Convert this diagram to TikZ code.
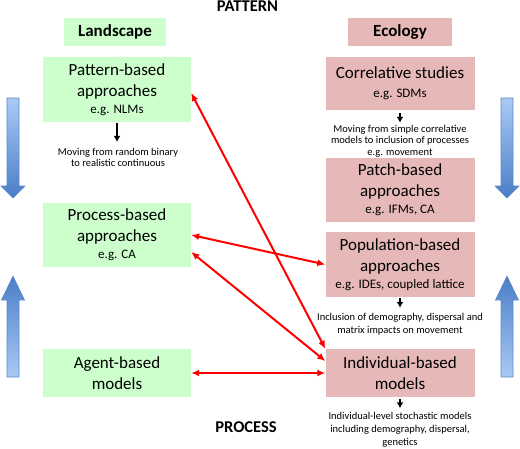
\documentclass[tikz,border=0pt]{standalone}
\usepackage{fontspec}
\setmainfont{Carlito}
\usetikzlibrary{arrows.meta}
\tikzset{>={Latex[width=7pt,length=6pt]}}

\definecolor{landgreen}{HTML}{CCFFCC}
\definecolor{ecopink}{HTML}{E6B9B8}
\definecolor{blueDark}{HTML}{4A7EC8}
\definecolor{blueLight}{HTML}{AACAF5}
\definecolor{blueEdge}{HTML}{5A8AC6}

\newcommand\boxfont{\fontsize{17}{21}\selectfont}
\newcommand\egfont{\fontsize{13}{15}\selectfont}
\newcommand\notefont{\fontsize{10.5}{11.5}\selectfont}

\begin{document}
\begin{tikzpicture}[x=1pt,y=-1pt,
    landbox/.style={fill=landgreen, align=center, inner sep=0pt, minimum width=148pt, font=\boxfont},
    ecobox/.style={fill=ecopink, align=center, inner sep=0pt, minimum width=149pt, font=\boxfont},
    header/.style={inner sep=0pt, minimum height=28pt, font=\fontsize{17}{20}\selectfont\bfseries},
    axis/.style={inner sep=0pt, font=\fontsize{16.5}{19}\selectfont\bfseries},
    note/.style={align=center, inner sep=0pt, font=\notefont},
    widenote/.style={note, font=\fontsize{10.5}{13}\selectfont},
    link/.style={{Latex[length=8pt,width=7pt]}-{Latex[length=8pt,width=7pt]}, red, line width=2pt},
    smallarrow/.style={->, line width=1.5pt}]

  \useasboundingbox (0,0) rectangle (520,448);

  \newcommand\colL{117};
  \newcommand\colR{400};

  %% titles
  \node[axis] (pattern) at (247.5,6.5) {PATTERN};
  \node[axis] (process) at (246,427) {PROCESS};

  \node[header, fill=landgreen, minimum width=102pt] (land) at (115,32) {Landscape};
  \node[header, fill=ecopink, minimum width=104pt] (eco) at (\colR,32) {Ecology};

  %% landscape column
  \node[landbox, minimum height=65pt] (pat) at (\colL,89.5) {Pattern-based\\approaches\\[-4pt]{\egfont e.g. NLMs}};
  \node[note] (patnote) at (118,157.5) {Moving from random binary\\to realistic continuous};
  \node[landbox, minimum height=64pt] (proc) at (\colL,235) {Process-based\\approaches\\[-4pt]{\egfont e.g. CA}};
  \node[landbox, minimum height=48pt] (agent) at (\colL,373) {Agent-based\\models};

  %% ecology column
  \node[ecobox, minimum height=53pt] (corr) at (\colR,83.5) {Correlative studies\\[-2pt]{\egfont e.g. SDMs}};
  \node[note] (corrnote) at (\colR,141) {Moving from simple correlative\\models to inclusion of processes\\e.g. movement};
  \node[ecobox, minimum height=64pt] (patch) at (\colR,190) {Patch-based\\approaches\\[-4pt]{\egfont e.g. IFMs, CA}};
  \node[ecobox, minimum height=65pt] (popn) at (\colR,264.5) {Population-based\\approaches\\[-4pt]{\egfont e.g. IDEs, coupled lattice}};
  \node[widenote] (popnnote) at (\colR,324) {Inclusion of demography, dispersal and\\matrix impacts on movement};
  \node[widenote] (indivnote) at (\colR,430) {Individual-level stochastic models\\including demography, dispersal,\\genetics};
  \node[ecobox, minimum height=48pt] (indiv) at (\colR,373) {Individual-based\\models};

  %% small arrows
  \draw[smallarrow, shorten <=1pt, shorten >=6pt] (pat.south) -- (pat.south |- patnote.north);
  \draw[smallarrow, shorten <=3pt, shorten >=2pt] (corr.south) -- (corrnote.north);
  \draw[smallarrow, shorten <=1pt, shorten >=5pt] (popn.south) -- (popn.south |- popnnote.north);
  \draw[smallarrow, shorten <=2pt, shorten >=4pt] (indiv.south) -- (indiv.south |- indivnote.north);

  %% links between the columns
  \draw[link] ([yshift=-3.5pt]pat.east) -- (indiv.north west);
  \draw[link] (proc.east) -- (popn.west);
  \draw[link] ([yshift=-17pt]proc.east) -- ([yshift=12pt]indiv.west);
  \draw[link] (agent.east) -- (indiv.west);

  %% blue arrows at the sides
  \foreach \cx in {13,507} {
    \shade[top color=blueLight, bottom color=blueDark, draw=blueEdge, line width=0.6pt]
      (\cx-6,98) -- (\cx+6,98) -- (\cx+6,186) -- (\cx+12,186) -- (\cx,198)
      -- (\cx-12,186) -- (\cx-6,186) -- cycle;
    \shade[top color=blueDark, bottom color=blueLight, draw=blueEdge, line width=0.6pt]
      (\cx,276) -- (\cx+11.5,300) -- (\cx+6,300) -- (\cx+6,377) -- (\cx-6,377)
      -- (\cx-6,300) -- (\cx-11.5,300) -- cycle;
  }

\end{tikzpicture}
\end{document}
